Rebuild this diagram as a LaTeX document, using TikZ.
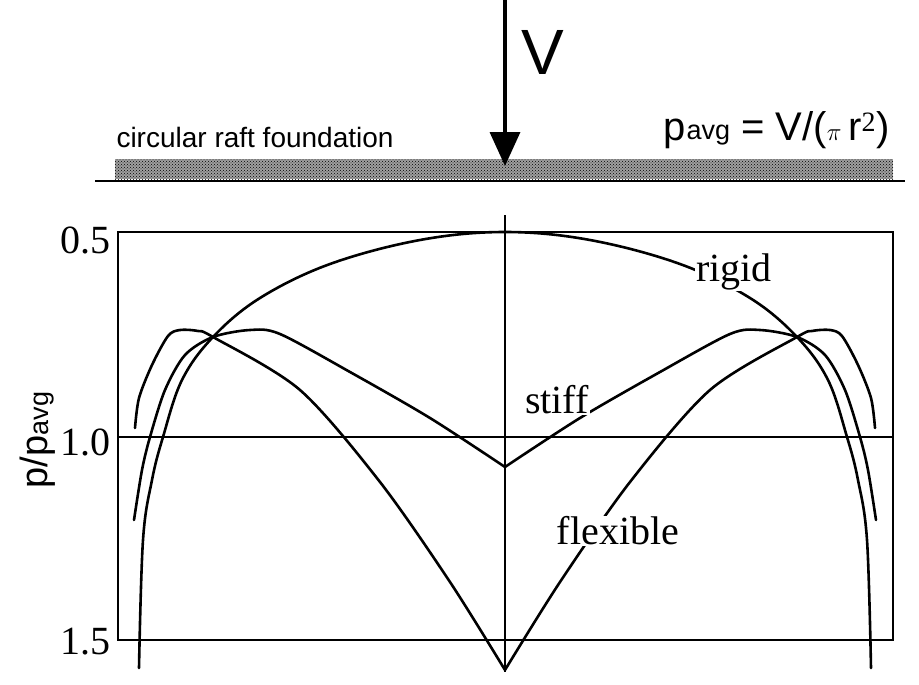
\documentclass[tikz,border=0pt]{standalone}
\usepackage{fontspec}
\setmainfont{Liberation Serif}
\setsansfont{Liberation Sans}
\usetikzlibrary{patterns,arrows.meta}
\begin{document}
\begin{tikzpicture}[x=1pt,y=-1pt,
  curve/.style={line width=2.6pt,line cap=round},
  thin/.style={line width=1.2pt},
  serlab/.style={font=\fontsize{40}{44}\selectfont},
  sanlab/.style={font=\sffamily\fontsize{28}{32}\selectfont}]
\useasboundingbox (0,0) rectangle (919,685);
% raft
\node[fill=gray!75,minimum width=778pt,minimum height=20pt,inner sep=0pt] (raftbg) at (504,169) {};
\node[pattern=crosshatch dots,pattern color=black,minimum width=778pt,minimum height=20pt,inner sep=0pt] (raft) at (504,169) {};
\coordinate (g1) at (95,181); \coordinate (g2) at (905,181);
\draw[line width=2pt] (g1) -- (g2);
\coordinate (a0) at (505,0); \coordinate (a1) at (505,166);
\draw[line width=3.5pt,-{Triangle[length=34pt,width=30pt]}] (a0) -- (a1);
\node[font=\sffamily\fontsize{64}{70}\selectfont] (V) at (543,52) {V};
\node[sanlab,anchor=west] (crf) at (113,137) {circular raft foundation};
\node[font=\sffamily\fontsize{40}{44}\selectfont,anchor=east] (pavg) at (893,130) {p\kern1pt\raisebox{1pt}{\fontsize{27}{30}\selectfont avg} = V/($\pi$\,r$^{\mathrm{2}}$)};
% frame
\coordinate (b1) at (118,232); \coordinate (b2) at (893,640);
\draw[thin] (b1) rectangle (b2);
\coordinate (h1) at (118,437); \coordinate (h2) at (893,437);
\draw[thin] (h1) -- (h2);
\coordinate (v1) at (505,215); \coordinate (v2) at (505,672);
\draw[thin] (v1) -- (v2);
\node[serlab,anchor=east] (l05) at (114,240) {0.5};
\node[serlab,anchor=east] (l10) at (114,442) {1.0};
\node[serlab,anchor=east] (l15) at (114,642) {1.5};
\node[font=\sffamily\fontsize{38}{42}\selectfont,rotate=90] (yl) at (38,440) {p/p\raisebox{-1pt}{\fontsize{27}{30}\selectfont avg}};
% rigid
\draw[curve] plot[smooth,tension=0.6] coordinates {(139,668)(143,540)(152,480)(163,437)(182,380)(213,337)(260,298)(330,264)(420,240)(505,232)(590,240)(680,264)(750,298)(797,337)(828,380)(847,437)(858,480)(867,540)(871,668)};
% stiff
\draw[curve] plot[smooth,tension=0.5] coordinates {(134,520)(142,470)(150,437)(165,390)(185,355)(213,337)(250,330)(280,334)(350,372)(430,418)(505,467)};
\draw[curve] plot[smooth,tension=0.5] coordinates {(876,520)(868,470)(860,437)(845,390)(825,355)(797,337)(760,330)(730,334)(660,372)(580,418)(505,467)};
% flexible
\draw[curve] plot[smooth,tension=0.5] coordinates {(135,428)(139,398)(152,365)(168,336)(180,330)(198,331)(213,337)(300,390)(380,482)(450,582)(505,670)};
\draw[curve] plot[smooth,tension=0.5] coordinates {(875,428)(871,398)(858,365)(842,336)(830,330)(812,331)(797,337)(710,390)(630,482)(560,582)(505,670)};
\node[serlab,fill=white,inner sep=1pt] (rigid) at (734,272) {rigid};
\node[serlab,fill=white,inner sep=1pt] (stiff) at (557,400) {stiff};
\node[serlab,fill=white,inner sep=1pt] (flex) at (618,531) {flexible};
\end{tikzpicture}
\end{document}
